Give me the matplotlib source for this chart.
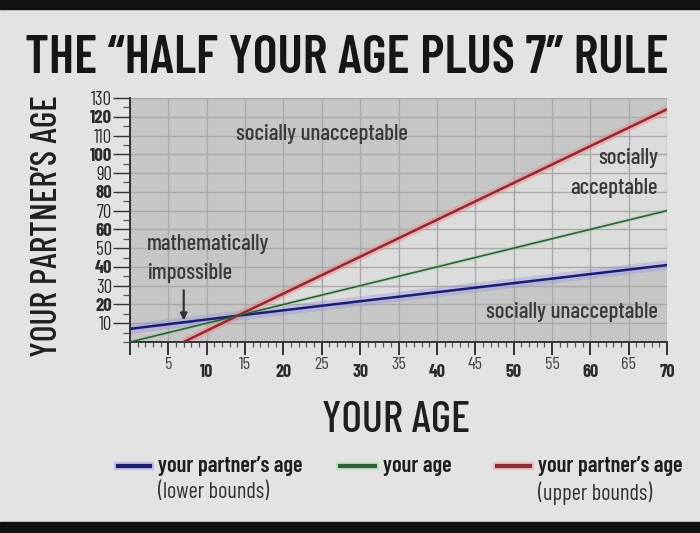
import numpy as np
import matplotlib
matplotlib.use("Agg")
import matplotlib.pyplot as plt
from matplotlib import font_manager as fm
from matplotlib.lines import Line2D
from matplotlib.patches import Rectangle
from matplotlib.ticker import MultipleLocator
import matplotlib.transforms as mtrans

# data
age_x = [0, 14, 70]
your_age = [0, 14, 70]
lower_x = [0, 14, 70]
lower_y = [7, 14, 41]
upper_x = [7, 14, 70]
upper_y = [0, 14, 124]
x_ticks = list(range(5, 71, 5))
y_ticks = list(range(10, 131, 10))

names = {f.name for f in fm.fontManager.ttflist}
FONT = "DejaVu Sans"
for cand in ["Barlow Condensed", "Roboto Condensed", "Open Sans Condensed", "DejaVu Sans"]:
    if cand in names:
        FONT = cand
        break
plt.rcParams["font.family"] = [FONT, "DejaVu Sans"]

BG = "#e3e3e3"
DARK = "#c6c6c6"
LIGHT = "#dcdcdc"
TXT = "#2b2b2b"
BLUE, GREEN, RED = "#1c1c72", "#2f5f3b", "#8e2a33"

fig = plt.figure(figsize=(7, 5.33), dpi=100, facecolor=BG)
W, H = 700, 533

def fx(px):
    return px / W

def fy(py):
    return 1 - py / H

# black frame bars top and bottom
fig.add_artist(Rectangle((0, fy(9)), 1, 9 / H, transform=fig.transFigure, color="#111111", zorder=10))
fig.add_artist(Rectangle((0, 0), 1, 11 / H, transform=fig.transFigure, color="#111111", zorder=10))

ax = fig.add_axes([fx(130), fy(342), fx(667) - fx(130), fy(98) - fy(342)])
ax.set_xlim(0, 70)
ax.set_ylim(0, 130)
ax.set_facecolor(DARK)

# light band between the bounds
xs = np.linspace(14, 70, 50)
ax.fill_between(xs, np.interp(xs, lower_x, lower_y), np.interp(xs, upper_x, upper_y),
                color=LIGHT, lw=0, zorder=0.2)

ax.set_axisbelow(True)
ax.set_xticks([0] + x_ticks)
ax.set_yticks(y_ticks)
ax.xaxis.set_minor_locator(MultipleLocator(1))
ax.yaxis.set_minor_locator(MultipleLocator(5))
ax.grid(True, which="major", color="#a9a9a9", lw=1.0)

# lines with a soft glow
ax.plot(lower_x, lower_y, color="#8f8fe6", lw=7, alpha=0.35, solid_capstyle="butt", zorder=2)
ax.plot(lower_x, lower_y, color=BLUE, lw=1.8, zorder=3)
ax.plot(upper_x, upper_y, color="#f08a8a", lw=5.5, alpha=0.5, solid_capstyle="butt", zorder=2)
ax.plot(upper_x, upper_y, color=RED, lw=1.8, zorder=3)
ax.plot(age_x, your_age, color="#9ad29a", lw=3, alpha=0.35, zorder=2)
ax.plot(age_x, your_age, color=GREEN, lw=1.2, zorder=3)

for s in ["top", "right"]:
    ax.spines[s].set_visible(False)
for s in ["left", "bottom"]:
    ax.spines[s].set_color("#333333")
    ax.spines[s].set_linewidth(1.4)

ax.tick_params(axis="x", which="major", length=9, width=1.4, color="#333333", pad=2)
ax.tick_params(axis="x", which="minor", length=3.5, width=0.9, color="#555555")
ax.tick_params(axis="y", which="major", length=12, width=1.0, color="#333333", pad=1)
ax.tick_params(axis="y", which="minor", length=5, width=0.9, color="#555555")

ax.set_xticklabels([""] + [str(v) for v in x_ticks])
for lab, v in zip(ax.get_xticklabels(), [0] + x_ticks):
    lab.set_fontsize(13)
    lab.set_color(TXT)
    if v % 10 == 0:
        lab.set_fontweight("bold")
        lab.set_transform(lab.get_transform() + mtrans.ScaledTranslation(0, -7 / 100, fig.dpi_scale_trans))
    else:
        lab.set_color("#444444")

ax.set_yticklabels([str(v) for v in y_ticks])
for lab, v in zip(ax.get_yticklabels(), y_ticks):
    lab.set_fontsize(13.5)
    lab.set_color(TXT)
    lab.set_fontweight("bold" if v % 20 == 0 else "normal")

# region labels
ann = dict(color="#3a3a3a", fontsize=16, fontweight="medium", zorder=4)
top_lab = ax.text(13.8, 111, "socially unacceptable", ha="left", va="center", **ann)
t_soc = ax.text(68.8, 98, "socially", ha="right", va="center", **ann)
t_acc = ax.text(68.8, 82, "acceptable", ha="right", va="center", **ann)
t_bot = ax.text(68.8, 16, "socially unacceptable", ha="right", va="center", **ann)
t_math = ax.text(2.2, 52, "mathematically", ha="left", va="center", **ann)
t_imp = ax.text(2.2, 37, "impossible", ha="left", va="center", **ann)
ax.annotate("", xy=(7, 10), xytext=(7, 29),
            arrowprops=dict(arrowstyle="-|>", color="#333333", lw=1.6, mutation_scale=10), zorder=4)

# titles
title = fig.text(fx(25), fy(59), "THE \u201cHALF YOUR AGE PLUS 7\u201d RULE", ha="left", va="center",
                 fontsize=40, fontweight="semibold", color="#161616")
ylab = fig.text(fx(48), fy(226), "YOUR PARTNER\u2019S AGE", rotation=90, ha="center", va="center",
                fontsize=30, fontweight="medium", color="#1f1f1f")
xlab = fig.text(fx(396), fy(420), "YOUR AGE", ha="center", va="center", fontsize=30,
                fontweight="medium", color="#1f1f1f")

# legend drawn by hand
leg = [(118, 150, BLUE, "#8f8fe6", "your partner\u2019s age", "(lower bounds)"),
       (340, 375, GREEN, "#9ad29a", "your age", None),
       (497, 530, RED, "#f08a8a", "your partner\u2019s age", "(upper bounds)")]
leg_texts = []
for x0, x1, c, glow, t1, t2 in leg:
    fig.add_artist(Line2D([fx(x0), fx(x1)], [fy(466), fy(466)], color=glow, lw=6, alpha=0.4,
                          transform=fig.transFigure))
    fig.add_artist(Line2D([fx(x0), fx(x1)], [fy(466), fy(466)], color=c, lw=3,
                          transform=fig.transFigure))
    leg_texts.append(fig.text(fx(x1 + 8), fy(466), t1, ha="left", va="center", fontsize=14,
                              fontweight="semibold", color="#1f1f1f"))
    if t2:
        leg_texts.append(fig.text(fx(x1 + 8), fy(493), t2, ha="left", va="center", fontsize=14,
                                  color="#333333"))

# fit the big texts to the widths they have in the picture
r = fig.canvas.get_renderer()

def fit(t, target, vertical=False):
    bb = t.get_window_extent(r)
    size = bb.height if vertical else bb.width
    t.set_fontsize(t.get_fontsize() * target / size)

fit(title, 643)
fit(ylab, 262, vertical=True)
fit(xlab, 148)
fit(top_lab, 173)
for t in [t_soc, t_acc, t_bot, t_math, t_imp]:
    t.set_fontsize(top_lab.get_fontsize())
fit(leg_texts[0], 145)
for t in leg_texts[1:]:
    t.set_fontsize(leg_texts[0].get_fontsize())

fig.savefig("out.png", dpi=100, facecolor=fig.get_facecolor())
